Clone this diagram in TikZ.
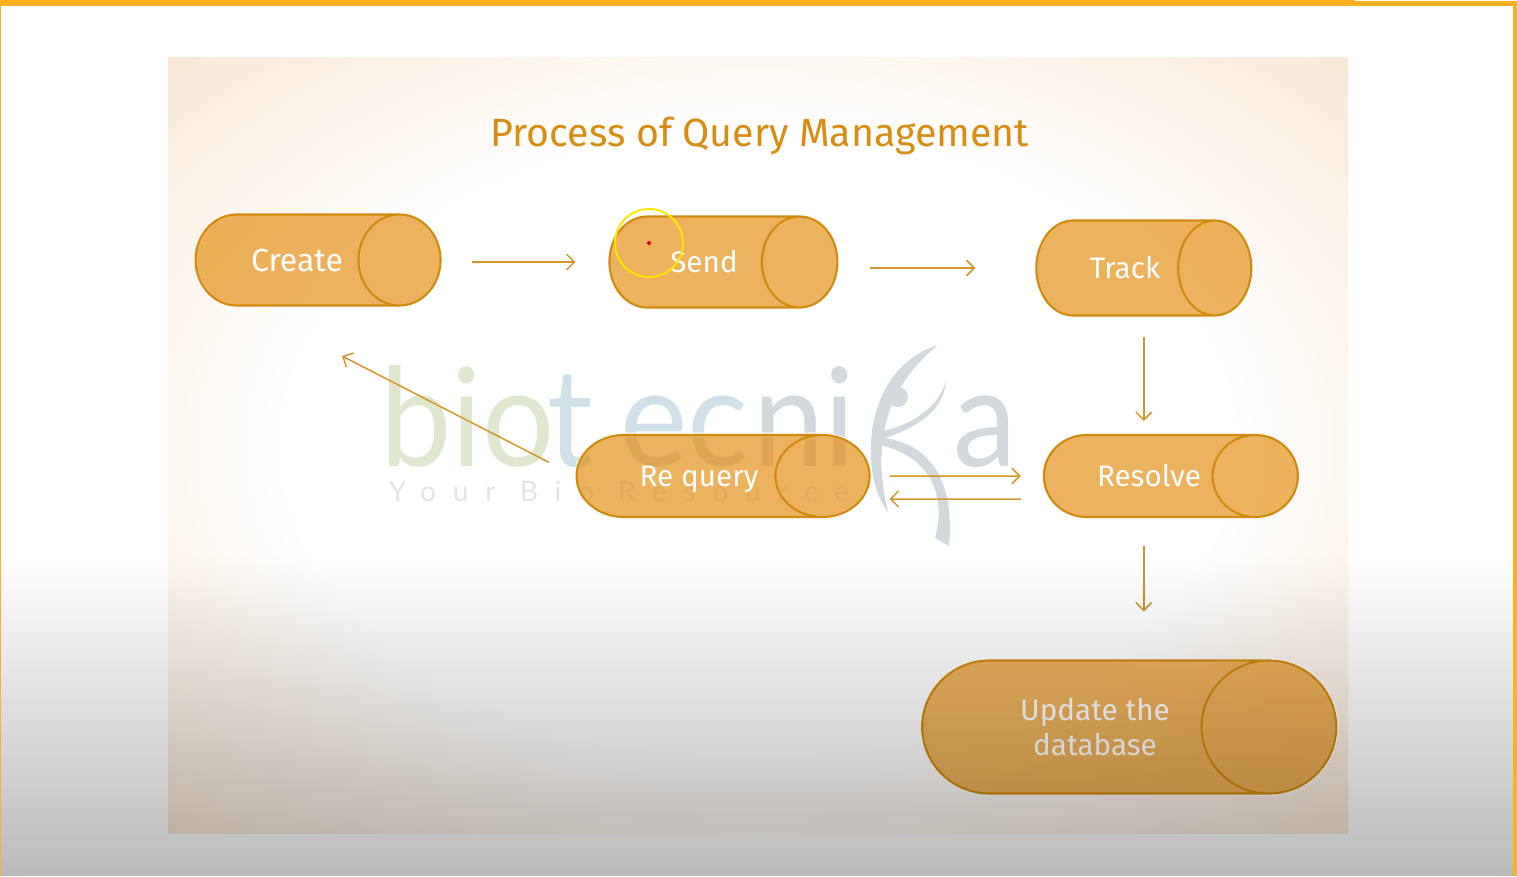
\documentclass[tikz,border=0pt]{standalone}
\usepackage{fontspec}
\setmainfont{Fira Sans}
\newfontfamily\logofont[FakeStretch=0.93]{Lato}
\newfontfamily\tagfont[LetterSpace=60]{Lato}
\usetikzlibrary{shapes.geometric,arrows.meta,fadings,calc}

\definecolor{framecol}{HTML}{FFB01E}
\definecolor{edgecol}{HTML}{D18A10}
\definecolor{pipecol}{HTML}{E48A09}
\definecolor{titlecol}{HTML}{D98C12}
\definecolor{arrowcol}{HTML}{D4952A}
\definecolor{peachcol}{HTML}{F9E7D3}
\definecolor{logogreen}{HTML}{DFE8CF}
\definecolor{logoblue}{HTML}{CFE0E8}
\definecolor{logogray}{HTML}{D3D8DC}

\newcommand{\pxu}{0.02cm}
\pgfdeclareradialshading{slideglow}{\pgfpoint{0bp}{0bp}}{color(0bp)=(white); color(20bp)=(white); color(36bp)=(peachcol); color(100bp)=(peachcol)}
\tikzfading[name=floorfade, top color=transparent!100, middle color=transparent!84, bottom color=transparent!73]

\tikzset{pipe_style/.style={cylinder, draw=edgecol, line width=1.2pt, fill=pipecol, fill opacity=0.65, draw opacity=1, text opacity=1,
    preaction={draw=white, line width=3pt, draw opacity=0.6, fill opacity=0},
    text=white, inner sep=0pt, align=center, font=\fontsize{16.9}{20}\selectfont}}
\tikzset{flow_style/.style={arrowcol, line width=0.85pt, -{Straight Barb[length=4.5pt,width=9pt]}}}
\tikzset{logo_style/.style={inner sep=0pt, anchor=base west, font=\logofont\fontsize{78}{80}\selectfont}}

\begin{document}
\begin{tikzpicture}[x=0.02cm, y=-0.02cm]
    \useasboundingbox (0,0) rectangle (1517,876);

    % slide
    \fill[white] (0,0) rectangle (1517,876);
    \shade[shading=slideglow] (168,57) rectangle (1348,833);

    % watermark
    \node[logo_style, text=logogreen] (bio) at (380,466) {bio};
    \node[logo_style, text=logoblue] (t) at (547,466) {t};
    \node[logo_style, text=logoblue] (ec) at (620,466) {ec};
    \node[logo_style, text=logogray] (ni) at (753,466) {ni};
    \node[logo_style, text=logogray] (a) at (953,466) {a};
    \node[inner sep=0pt, text=logogray!70, font=\tagfont\fontsize{16}{18}\selectfont] (tagline) at (619,491) {Your Bio Resource};
    \fill[logogray] (938,345) .. controls (890,360) and (865,410) .. (872,470) .. controls (875,490) and (882,505) .. (888,512) .. controls (878,470) and (870,400) .. (938,345);
    \fill[logogray] (946,380) .. controls (945,405) and (925,425) .. (885,438) .. controls (930,445) and (955,480) .. (949,546) -- (935,538) .. controls (948,490) and (925,455) .. (880,445) -- (878,432) .. controls (915,425) and (940,405) .. (946,380);
    \fill[logogray] (898,397) circle (10);

    \node[titlecol, inner sep=0pt, font=\fontsize{22.4}{24}\selectfont] (title) at (760,136) {Process of Query Management};

    \node[pipe_style, minimum height=245*\pxu, minimum width=91*\pxu, shape aspect=3.6, font=\fontsize{18.2}{20}\selectfont] (create) at (297,260) {Create};
    \node[pipe_style, minimum height=228*\pxu, minimum width=91*\pxu, shape aspect=3.34] (send) at (704,262) {Send};
    \node[pipe_style, minimum height=215*\pxu, minimum width=95*\pxu, shape aspect=3.23] (track) at (1125,268) {Track};
    \node[pipe_style, minimum height=254*\pxu, minimum width=82*\pxu, shape aspect=3.77] (resolve) at (1149,476) {Resolve};
    \node[pipe_style, minimum height=293*\pxu, minimum width=82*\pxu, shape aspect=4.6, text depth=0pt] (requery) at (699,476) {Re query};
    \node[pipe_style, minimum height=414*\pxu, minimum width=133*\pxu, shape aspect=2.33] (update) at (1095,727) {Update the\\database};

    \coordinate (createlow) at (342,356);

    \draw[flow_style, shorten <=30*\pxu, shorten >=33*\pxu] (create.east |- send) -- (send.west);
    \draw[flow_style, shorten <=32*\pxu, shorten >=60*\pxu] (send.east |- track) -- (track.west);
    \draw[flow_style, shorten <=20*\pxu, shorten >=13*\pxu] (track.shape center |- track.south) -- (track.shape center |- resolve.north);
    \draw[flow_style, shorten <=28*\pxu, shorten >=48*\pxu] (track.shape center |- resolve.south) -- (track.shape center |- update.north);
    \draw[flow_style, shorten <=19*\pxu, shorten >=22*\pxu] (requery.east) -- (resolve.west);
    \draw[flow_style, shorten <=22*\pxu, shorten >=19*\pxu] ($(resolve.west)+(0,23)$) -- ($(requery.east)+(0,23)$);
    \draw[flow_style, shorten <=30*\pxu] (requery.west) -- (createlow);

    % pointer of the recording
    \node[circle, draw=yellow!90!orange, line width=1.1pt, minimum size=68*\pxu, inner sep=0pt] (pointer) at (649,243) {};
    \fill[red!80!black] (pointer.center) circle (2);

    % floor of the slide
    \fill[black, path fading=floorfade] (0,555) rectangle (1517,876);

    % window frame
    \fill[framecol] (0,0) rectangle (1355,6);
    \fill[framecol] (1355,1) rectangle (1517,6);
    \fill[framecol] (1513,1) rectangle (1517,876);
    \fill[framecol] (0,0) rectangle (1.5,876);
\end{tikzpicture}
\end{document}
